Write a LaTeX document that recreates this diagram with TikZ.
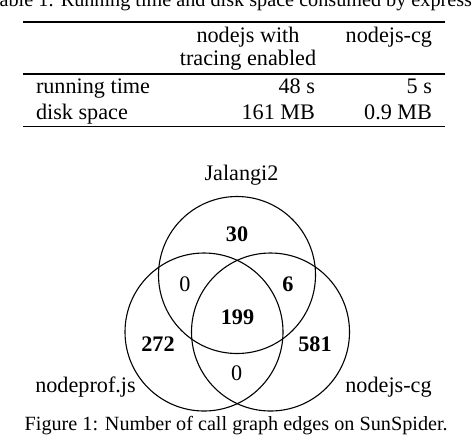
\documentclass[tikz,border=0pt]{standalone}
\usepackage{fontspec}
\setmainfont{Liberation Serif}
\begin{document}
\begin{tikzpicture}[x=0.5pt,y=-0.5pt,
  txt/.style={inner sep=0pt,outer sep=0pt,font=\fontsize{11.1}{13}\selectfont},
  num/.style={txt,font=\fontsize{11.1}{13}\selectfont\bfseries},
  capt/.style={inner sep=0pt,outer sep=0pt,font=\fontsize{10.1}{12}\selectfont},
  set/.style={draw=black,line width=0.55pt}]
\useasboundingbox (0,0) rectangle (474,439);
% table caption (cropped)
\node[capt,anchor=base east] (tcap) at (472,6.5) {Table 1: Running time and disk space consumed by express};
% rules
\coordinate (tl) at (23,22); \coordinate (tr) at (445,22);
\coordinate (ml) at (23,74); \coordinate (mr) at (445,74);
\coordinate (bl) at (23,126.5); \coordinate (br) at (445,126.5);
\draw[line width=0.9pt] (tl) -- (tr);
\draw[line width=0.55pt] (ml) -- (mr);
\draw[line width=0.9pt] (bl) -- (br);
% header
\node[txt,anchor=base] (h1) at (248,42.7) {nodejs with};
\node[txt,anchor=base] (h2) at (248,65) {tracing enabled};
\node[txt,anchor=base east] (h3) at (432,42.7) {nodejs-cg};
% rows
\node[txt,anchor=base west] (r1) at (36,93.3) {running time};
\node[txt,anchor=base east] (r1a) at (315,93.3) {48 s};
\node[txt,anchor=base east] (r1b) at (432,93.3) {5 s};
\node[txt,anchor=base west] (r2) at (36,119.3) {disk space};
\node[txt,anchor=base east] (r2a) at (315,119.3) {161 MB};
\node[txt,anchor=base east] (r2b) at (432,119.3) {0.9 MB};
% venn
\coordinate (cJ) at (237,275);
\coordinate (cN) at (204,332);
\coordinate (cC) at (270.5,332);
\draw[set] (cJ) circle (78.5);
\draw[set] (cN) circle (79);
\draw[set] (cC) circle (79);
\node[txt,anchor=base] (lJ) at (241.5,180) {Jalangi2};
\node[txt,anchor=base] (lN) at (85.5,392.7) {nodeprof.js};
\node[txt,anchor=base] (lC) at (388.5,392.7) {nodejs-cg};
\node[num] (v30) at (237,234) {30};
\node[txt] (v0a) at (185,284.5) {0};
\node[num] (v6) at (288,284.5) {6};
\node[num] (v199) at (237.5,317) {199};
\node[num] (v272) at (158,344.3) {272};
\node[num] (v581) at (315,344.3) {581};
\node[txt] (v0b) at (236.7,373) {0};
% figure caption
\node[capt,anchor=base] (fcap) at (236.2,430.7) {Figure 1: Number of call graph edges on SunSpider.};
\end{tikzpicture}
\end{document}
